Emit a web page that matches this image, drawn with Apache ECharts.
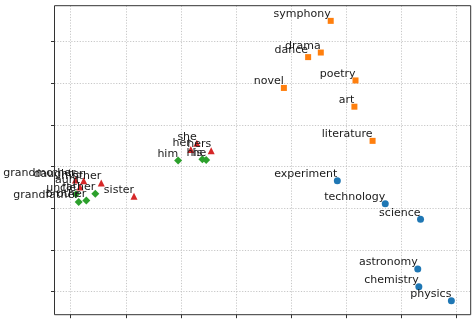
<!DOCTYPE html>
<html>
<head>
<meta charset="utf-8">
<script src="https://cdn.jsdelivr.net/npm/echarts@6/dist/echarts.min.js"></script>
<style>
html,body{margin:0;padding:0;background:#fff;}
#chart{width:474px;height:322px;}
</style>
</head>
<body>
<div id="chart"></div>
<script>
// ---- data (word embedding 2-D projection, in tick units) ----
const scienceWords = ['experiment','technology','science','astronomy','chemistry','physics'];
const scienceX = [4.84, 5.71, 6.35, 6.30, 6.32, 6.91];
const scienceY = [2.66, 2.11, 1.74, 0.545, 0.12, -0.22];

const artsWords = ['symphony','drama','dance','poetry','novel','art','literature'];
const artsX = [4.72, 4.54, 4.31, 5.17, 3.87, 5.15, 5.48];
const artsY = [6.50, 5.74, 5.63, 5.07, 4.89, 4.44, 3.62];

const maleWords = ['him','his','he','uncle','father','brother','grandfather'];
const maleX = [1.95, 2.39, 2.46, 0.096, 0.447, 0.283, 0.145];
const maleY = [3.15, 3.18, 3.16, 2.34, 2.35, 2.19, 2.15];

const femaleWords = ['she','her','hers','grandmother','daughter','mother','aunt','sister'];
const femaleX = [2.29, 2.18, 2.55, 0.087, 0.236, 0.555, 0.169, 1.149];
const femaleY = [3.56, 3.41, 3.38, 2.68, 2.66, 2.61, 2.51, 2.29];

const xTickValues = [0, 1, 2, 3, 4, 5, 6, 7];
const yTickValues = [0, 1, 2, 3, 4, 5, 6];

// ---- chart ----
const chart = echarts.init(document.getElementById('chart'), null, {renderer: 'canvas'});

function pts(words, xs, ys) {
  return words.map((w, i) => ({name: w, value: [xs[i], ys[i]]}));
}

const labelStyle = {
  show: true,
  formatter: '{b}',
  position: ['50%', '50%'],
  align: 'right',
  verticalAlign: 'bottom',
  offset: [0, -1],
  fontSize: 11,
  fontFamily: 'DejaVu Sans',
  color: '#1a1a1a'
};

const spine = '#333333';
const gridLine = {show: true, lineStyle: {color: '#b9b9b9', type: [1.2, 1.6], width: 0.8}};

function mk(name, data, symbol, size, color) {
  return {
    name, type: 'scatter', xAxisIndex: 0, yAxisIndex: 0,
    data, symbol, symbolSize: size,
    itemStyle: {color, opacity: 1},
    label: labelStyle,
    emphasis: {disabled: true},
    animation: false
  };
}

const option = {
  animation: false,
  backgroundColor: '#ffffff',
  grid: [
    {left: 54.5, right: 3.3, top: 5.7, bottom: 7.3, show: true, borderColor: spine, borderWidth: 1, backgroundColor: 'transparent', z: 3},
    {left: 70.7, right: 17.7, top: 5.7, bottom: 7.3, show: false},
    {left: 54.5, right: 3.3, top: 41.7, bottom: 30.3, show: false}
  ],
  xAxis: [
    {type: 'value', gridIndex: 0, min: -0.294, max: 7.261,
     axisLine: {show: false, onZero: false}, axisTick: {show: false}, axisLabel: {show: false}, splitLine: {show: false}},
    {type: 'value', gridIndex: 1, min: xTickValues[0], max: xTickValues[xTickValues.length - 1], interval: 1,
     axisLine: {show: false, onZero: false},
     axisTick: {show: true, length: 3.5, inside: false, lineStyle: {color: spine, width: 1}},
     axisLabel: {show: false}, splitLine: gridLine},
    {type: 'value', gridIndex: 2, show: false, min: 0, max: 1}
  ],
  yAxis: [
    {type: 'value', gridIndex: 0, min: -0.552, max: 6.864,
     axisLine: {show: false, onZero: false}, axisTick: {show: false}, axisLabel: {show: false}, splitLine: {show: false}},
    {type: 'value', gridIndex: 1, show: false, min: 0, max: 1},
    {type: 'value', gridIndex: 2, min: yTickValues[0], max: yTickValues[yTickValues.length - 1], interval: 1,
     axisLine: {show: false, onZero: false},
     axisTick: {show: true, length: 3.5, inside: false, lineStyle: {color: spine, width: 1}},
     axisLabel: {show: false}, splitLine: gridLine}
  ],
  series: [
    mk('science', pts(scienceWords, scienceX, scienceY), 'circle', 7, '#1f77b4'),
    mk('arts', pts(artsWords, artsX, artsY), 'rect', 6, '#ff7f0e'),
    mk('male', pts(maleWords, maleX, maleY), 'diamond', 8, '#2ca02c'),
    mk('female', pts(femaleWords, femaleX, femaleY), 'triangle', 7, '#d62728')
  ]
};
chart.setOption(option);
</script>
</body>
</html>
